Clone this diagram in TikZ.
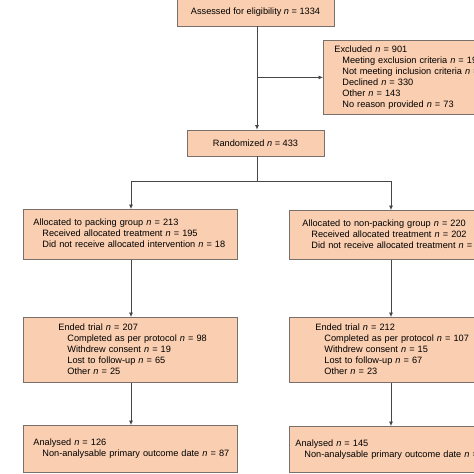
\documentclass[tikz,border=0pt]{standalone}
\usepackage{fontspec}
\setmainfont{Liberation Sans}
\usetikzlibrary{arrows.meta}
\definecolor{peach}{RGB}{250,206,176}
\definecolor{boxline}{RGB}{120,112,106}
\definecolor{conn}{RGB}{70,70,70}
\newcommand\nn{\textit{n}}
\newcommand\sub{\hspace*{9pt}}
\begin{document}
\begin{tikzpicture}[x=1pt,y=-1pt,
  box/.style={draw=boxline, fill=peach, line width=0.8pt, inner ysep=0pt,
    font=\fontsize{9.2}{11}\selectfont, align=left, anchor=north west},
  cbox/.style={draw=boxline, fill=peach, line width=0.8pt, inner sep=0pt,
    font=\fontsize{9.2}{11}\selectfont, align=center},
  arr/.style={draw=conn, line width=0.7pt, -{Latex[length=4.5pt,width=4pt]}},
  ln/.style={draw=conn, line width=0.7pt}]
\useasboundingbox (0,0) rectangle (474,474);
\clip (0,0) rectangle (474,474);
\fill[white] (0,0) rectangle (474,474);

% top
\node[cbox, minimum width=157pt, minimum height=28pt] (top) at (255.5,12)
  {Assessed for eligibility \nn{} = 1334};
\node[box, minimum width=250pt, minimum height=74pt, inner xsep=11pt, text width=228pt] (excl) at (323,40)
  {\begin{tabular}{@{}l@{}}Excluded \nn{} = 901\\
   \hspace*{8pt}Meeting exclusion criteria \nn{} = 195\\
   \hspace*{8pt}Not meeting inclusion criteria \nn{} = 160\\
   \hspace*{8pt}Declined \nn{} = 330\\
   \hspace*{8pt}Other \nn{} = 143\\
   \hspace*{8pt}No reason provided \nn{} = 73\end{tabular}};
\node[cbox, minimum width=137pt, minimum height=26pt] (rand) at (255.5,143)
  {Randomized \nn{} = 433};

% left column
\node[box, minimum width=214pt, minimum height=50pt, inner xsep=10pt, text width=194pt] (allocL) at (23,209)
  {\begin{tabular}{@{}l@{}}Allocated to packing group \nn{} = 213\\
   \sub Received allocated treatment \nn{} = 195\\
   \sub Did not receive allocated intervention \nn{} = 18\end{tabular}};
\node[box, minimum width=214pt, minimum height=65pt, inner xsep=35pt, text width=144pt] (endL) at (23,317)
  {\begin{tabular}{@{}l@{}}Ended trial \nn{} = 207\\
   \sub Completed as per protocol \nn{} = 98\\
   \sub Withdrew consent \nn{} = 19\\
   \sub Lost to follow-up \nn{} = 65\\
   \sub Other \nn{} = 25\end{tabular}};
\node[box, minimum width=214pt, minimum height=47pt, inner xsep=10pt, text width=194pt] (anaL) at (23,425)
  {\begin{tabular}{@{}l@{}}Analysed \nn{} = 126\\
   \sub Non-analysable primary outcome date \nn{} = 87\end{tabular}};

% right column
\node[box, minimum width=214pt, minimum height=49pt, inner xsep=13pt, text width=188pt] (allocR) at (289,210)
  {\begin{tabular}{@{}l@{}}Allocated to non-packing group \nn{} = 220\\
   \sub Received allocated treatment \nn{} = 202\\
   \sub Did not receive allocated treatment \nn{} = 18\end{tabular}};
\node[box, minimum width=214pt, minimum height=65pt, inner xsep=26pt, text width=162pt] (endR) at (289,317)
  {\begin{tabular}{@{}l@{}}Ended trial \nn{} = 212\\
   \sub Completed as per protocol \nn{} = 107\\
   \sub Withdrew consent \nn{} = 15\\
   \sub Lost to follow-up \nn{} = 67\\
   \sub Other \nn{} = 23\end{tabular}};
\node[box, minimum width=214pt, minimum height=46pt, inner xsep=6pt, text width=202pt] (anaR) at (289,426)
  {\begin{tabular}{@{}l@{}}Analysed \nn{} = 145\\
   \sub Non-analysable primary outcome date \nn{} = 75\end{tabular}};

% connectors
\coordinate (split) at (257,181);
\coordinate (colL) at (131,181);
\coordinate (colR) at (391,181);
\draw[arr] (top.south -| split) -- (rand.north -| split);
\draw[arr] (split |- excl.west) -- (excl.west);
\draw[ln] (rand.south -| split) -- (split);
\draw[ln] (colL) -- (colR);
\draw[arr] (colL) -- (colL |- allocL.north);
\draw[arr] (colR) -- (colR |- allocR.north);
\draw[arr] (colL |- allocL.south) -- (colL |- endL.north);
\draw[arr] (colR |- allocR.south) -- (colR |- endR.north);
\draw[arr] (colL |- endL.south) -- (colL |- anaL.north);
\draw[arr] (colR |- endR.south) -- (colR |- anaR.north);
\end{tikzpicture}
\end{document}
